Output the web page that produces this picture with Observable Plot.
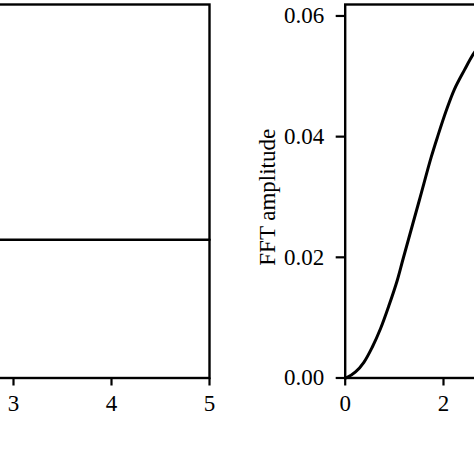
<!DOCTYPE html>
<html>
<head>
<meta charset="utf-8">
<script src="https://cdn.jsdelivr.net/npm/d3@7"></script>
<script src="https://cdn.jsdelivr.net/npm/@observablehq/plot@0.6"></script>
<style>
  html, body { margin: 0; padding: 0; background: white; }
  #wrap { position: relative; width: 474px; height: 474px; overflow: hidden; background: white; }
  #wrap svg { position: absolute; top: 0; max-width: none !important; background: transparent !important; }
  #wrap svg text { font-family: "Liberation Serif", "Times New Roman", serif !important; font-size: 23px !important; fill: black; }
</style>
</head>
<body>
<div id="wrap"></div>
<script>
// Left panel (time domain, only the right part is visible)
const leftTime = [0, 5];
const leftValue = [0.37, 0.37];
const leftTicks = [3, 4, 5];

// Right panel (FFT amplitude vs frequency)
const rightFreq = [0, 0.04, 0.21, 0.38, 0.55, 0.72, 0.89, 1.06, 1.18, 1.51, 1.75, 1.88, 2.06, 2.22, 2.43, 2.60, 2.70];
const rightAmp  = [0, 0.0001, 0.0010, 0.0026, 0.0051, 0.0082, 0.0120, 0.0162, 0.0198, 0.0295, 0.0366, 0.0400, 0.0444, 0.0478, 0.0511, 0.0536, 0.0547];
const rightXTicks = [0, 2];
const rightYTicks = [0, 0.02, 0.04, 0.06];
const yLabel = "FFT amplitude";

const font = {fontFamily: "'Liberation Serif', 'Times New Roman', serif", fontSize: "23px", background: "transparent", color: "black"};
const wrap = document.getElementById("wrap");

const leftData = leftTime.map((t, i) => ({t, v: leftValue[i]}));
const leftPlot = Plot.plot({
  width: 510, height: 474,
  marginLeft: 10, marginRight: 10, marginTop: 4, marginBottom: 96.5,
  style: font,
  x: {domain: [0, 5]},
  y: {domain: [0, 1], axis: null},
  marks: [
    Plot.axisX({ticks: leftTicks, tickFormat: d3.format("d"), tickSize: 8, tickPadding: 9, strokeWidth: 2.2, label: null, fontSize: 23}),
    Plot.line(leftData, {x: "t", y: "v", stroke: "black", strokeWidth: 2.6}),
    Plot.frame({stroke: "black", strokeWidth: 2.4})
  ]
});
leftPlot.style.left = "-291.3px";
wrap.appendChild(leftPlot);

const rightData = rightFreq.map((f, i) => ({f, a: rightAmp[i]}));
const rightPlot = Plot.plot({
  width: 344.7 + 196.6 + 10, height: 474,
  marginLeft: 344.7, marginRight: 10, marginTop: 4, marginBottom: 96.5,
  style: font,
  x: {domain: [0, 4]},
  y: {domain: [0, 0.0619]},
  marks: [
    Plot.axisX({ticks: rightXTicks, tickFormat: d3.format("d"), tickSize: 8, tickPadding: 9, strokeWidth: 2.2, label: null, fontSize: 23}),
    Plot.axisY({ticks: rightYTicks, tickFormat: d3.format(".2f"), tickSize: 9, tickPadding: 12, strokeWidth: 2.2, label: null, fontSize: 23}),
    Plot.text([yLabel], {frameAnchor: "left", dx: -78, dy: 6, rotate: -90, lineAnchor: "middle", textAnchor: "middle", fontSize: 23, fill: "black"}),
    Plot.line(rightData, {x: "f", y: "a", curve: "catmull-rom", stroke: "black", strokeWidth: 3}),
    Plot.frame({stroke: "black", strokeWidth: 2.4})
  ]
});
rightPlot.style.left = "0px";
wrap.appendChild(rightPlot);
</script>
</body>
</html>
